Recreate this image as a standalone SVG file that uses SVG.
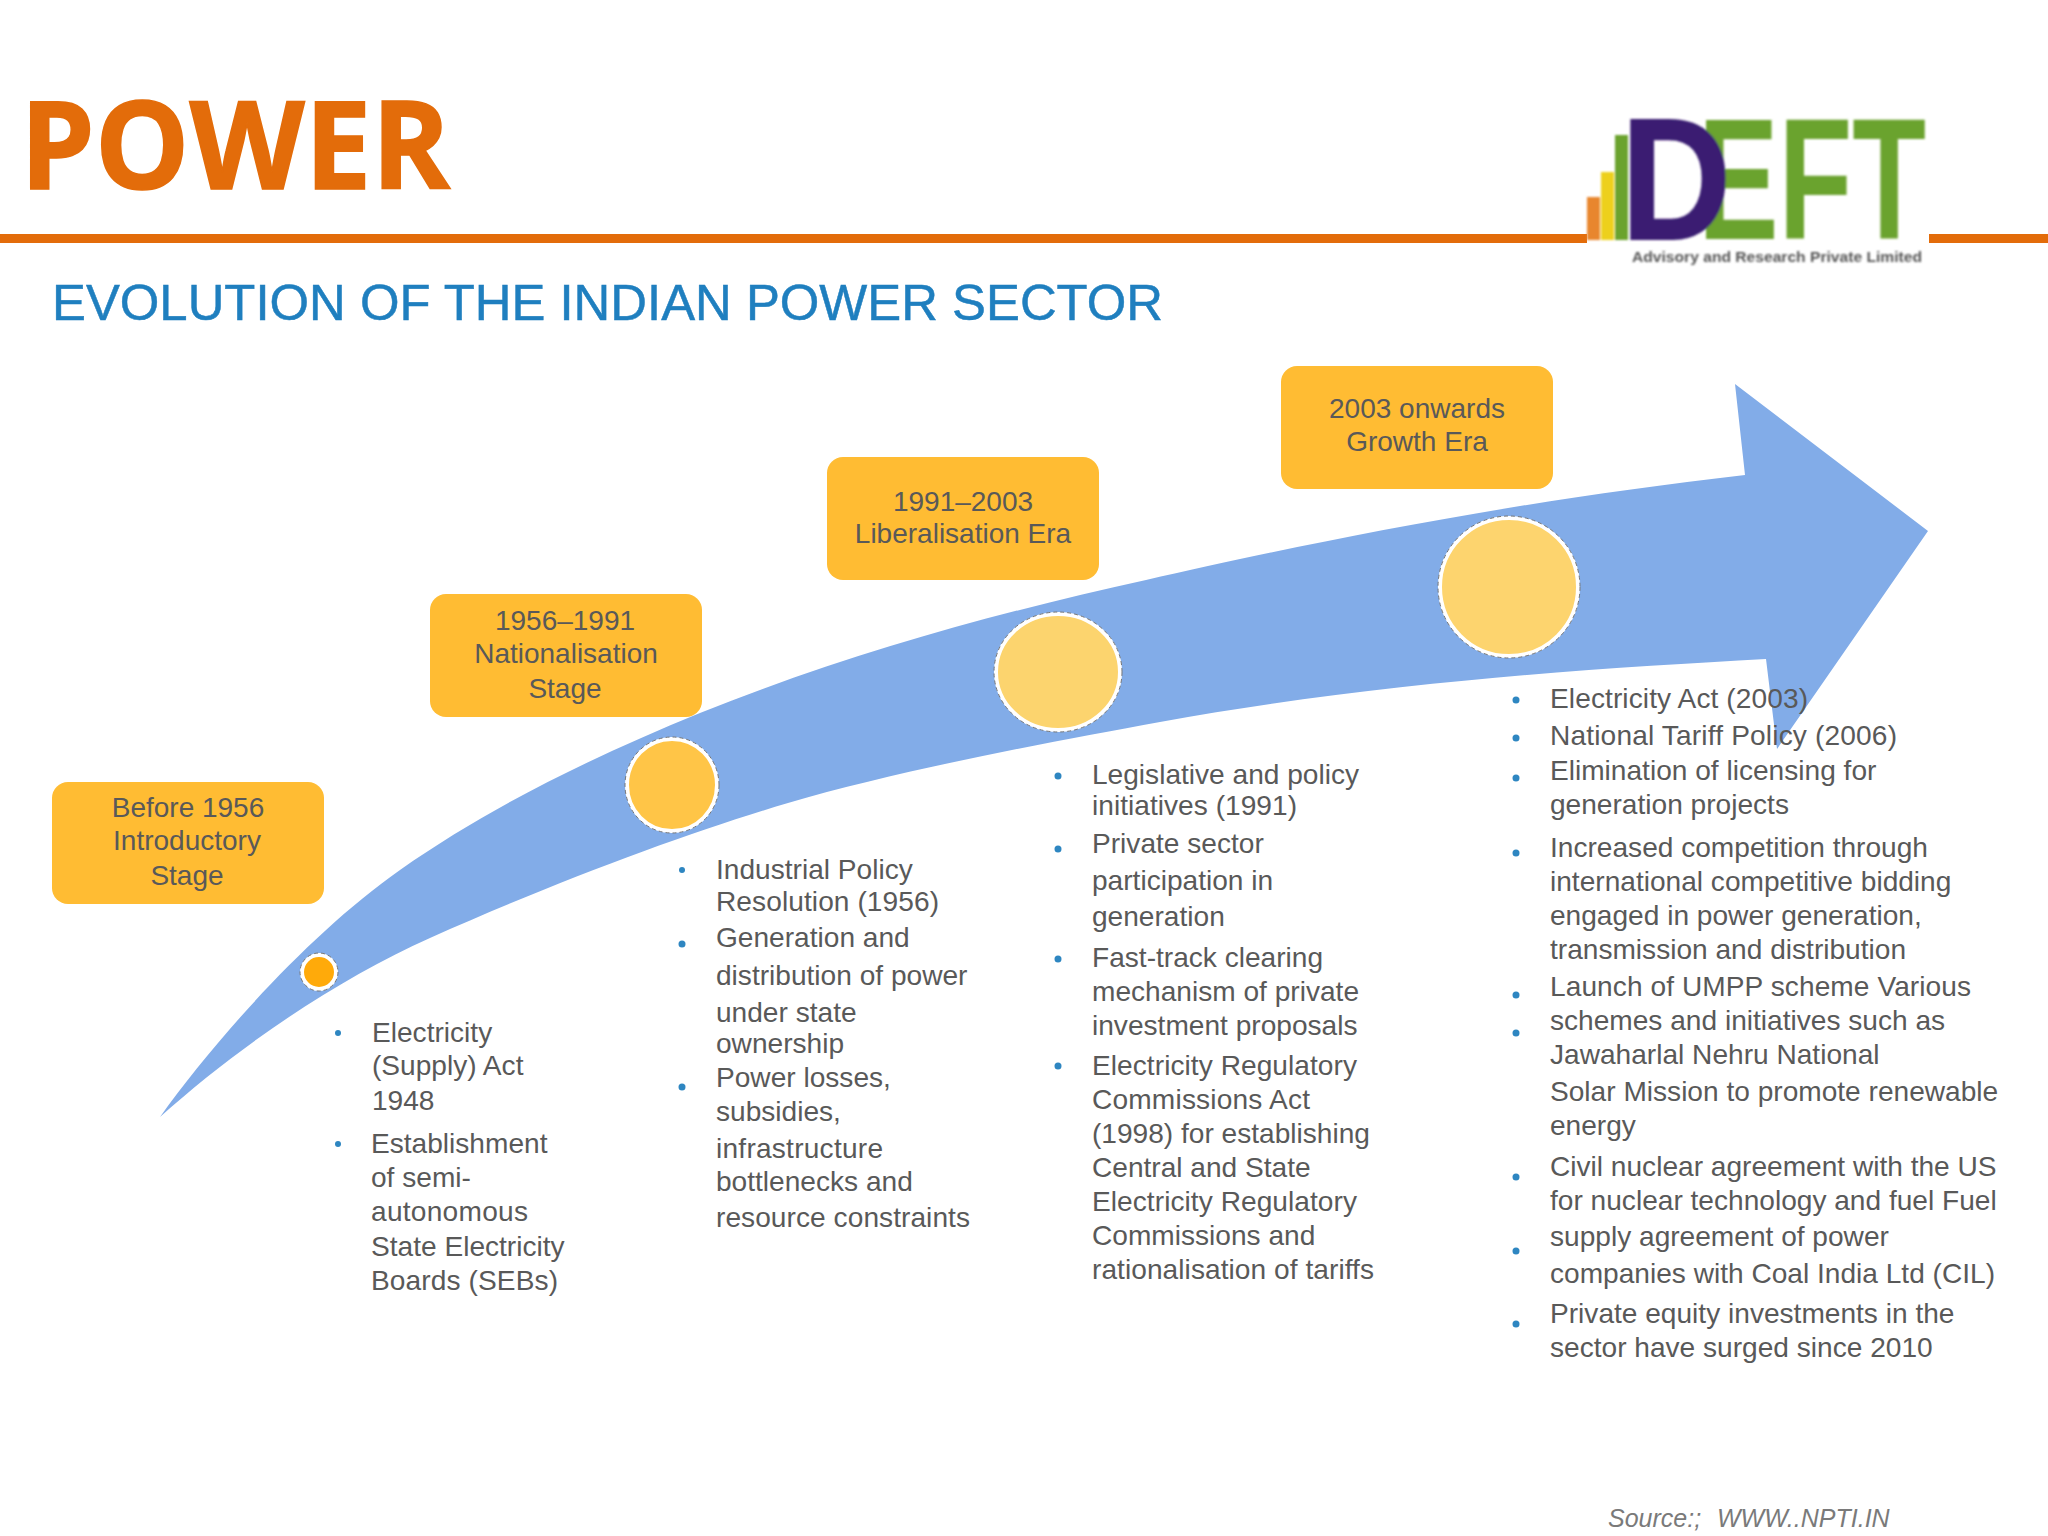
<svg xmlns="http://www.w3.org/2000/svg" width="2048" height="1536" viewBox="0 0 2048 1536">
<style>
text{font-family:"Liberation Sans",Arial,sans-serif;fill:#595959}
.b{font-size:28.1px}
.h{font-size:28px;text-anchor:middle}
.box{fill:#FFBC33}
.dot{fill:#2E86C1}
.c{stroke:#fff;stroke-width:4}
.co{fill:none;stroke:#777;stroke-width:1;stroke-dasharray:4 3}
.lg{font-weight:700}
</style>
<defs><filter id="soft" x="-5%" y="-5%" width="110%" height="110%"><feGaussianBlur stdDeviation="0.9"/></filter></defs>
<rect width="2048" height="1536" fill="#fff"/>
<text x="20" y="189" font-size="122" font-weight="700" textLength="430" lengthAdjust="spacingAndGlyphs" style='font-family:"Open Sans","Noto Sans",sans-serif;fill:#E36C0A;stroke:#E36C0A;stroke-width:1.5'>POWER</text>
<rect id="rule" x="0" y="234" width="2048" height="9" fill="#E36C0A"/>
<g id="logo">
<rect x="1587" y="115" width="342" height="160" fill="#fff"/>
<g filter="url(#soft)">
<rect x="1587" y="197" width="13" height="43" fill="#E8862E"/>
<rect x="1601" y="172" width="13" height="68" fill="#EDD01A"/>
<rect x="1615" y="135" width="13" height="105" fill="#6BA32D"/>
<text class="lg" x="1698" y="239" font-size="173" textLength="228" lengthAdjust="spacingAndGlyphs" style="fill:#6BA32D">EFT</text>
<text class="lg" x="1621" y="239" font-size="173" textLength="110" lengthAdjust="spacingAndGlyphs" style="fill:#3A1F72;stroke:#3A1F72;stroke-width:2">D</text>
<text class="lg" x="1632" y="262" font-size="15" textLength="290" lengthAdjust="spacingAndGlyphs" style="fill:#555">Advisory and Research Private Limited</text>
</g>
</g>
<text x="52" y="320" font-size="50" textLength="1111" lengthAdjust="spacingAndGlyphs" style="fill:#1F7FBF;stroke:#1F7FBF;stroke-width:.5">EVOLUTION OF THE INDIAN POWER SECTOR</text>
<g id="connectors">
<path id="arrow" fill="#82ACE8" d="M160 1117C215 1040 310 933 400 870C490 807 590 758 700 713C850 653 1000 612 1146 580C1300 545 1500 503 1745 475L1735 384L1928 531L1777 749L1766 659C1600 668 1380 682 1160 722C1050 742 900 770 788 803C690 832 560 880 430 938C340 978 240 1045 160 1117Z"/>
</g>
<g id="stage1">
<rect class="box" x="52" y="782" width="272" height="122" rx="16"/>
<text class="h" x="188" y="817">Before 1956</text>
<text class="h" x="187" y="850">Introductory</text>
<text class="h" x="187" y="885">Stage</text>
<circle cx="319" cy="972" r="17" fill="#FFAA0A" class="c"/><circle class="co" cx="319" cy="972" r="19"/>
<circle class="dot" cx="338" cy="1033" r="3"/><circle class="dot" cx="338" cy="1144" r="3"/>
<text class="b" x="372" y="1042">Electricity</text>
<text class="b" x="372" y="1075">(Supply) Act</text>
<text class="b" x="372" y="1110">1948</text>
<text class="b" x="371" y="1153">Establishment</text>
<text class="b" x="371" y="1187">of semi-</text>
<text class="b" x="371" y="1221" textLength="157">autonomous</text>
<text class="b" x="371" y="1256">State Electricity</text>
<text class="b" x="371" y="1290" textLength="187">Boards (SEBs)</text>
</g>
<g id="stage2">
<rect class="box" x="430" y="594" width="272" height="123" rx="16"/>
<text class="h" x="565" y="630">1956–1991</text>
<text class="h" x="566" y="663">Nationalisation</text>
<text class="h" x="565" y="698">Stage</text>
<ellipse cx="672" cy="785" rx="45" ry="46" fill="#FFC547" class="c"/><ellipse class="co" cx="672" cy="785" rx="47" ry="48"/>
<circle class="dot" cx="682" cy="870" r="3"/><circle class="dot" cx="682" cy="944" r="3.5"/><circle class="dot" cx="682" cy="1087" r="3.5"/>
<text class="b" x="716" y="879">Industrial Policy</text>
<text class="b" x="716" y="911" textLength="223">Resolution (1956)</text>
<text class="b" x="716" y="947">Generation and</text>
<text class="b" x="716" y="985">distribution of power</text>
<text class="b" x="716" y="1022">under state</text>
<text class="b" x="716" y="1053">ownership</text>
<text class="b" x="716" y="1087">Power losses,</text>
<text class="b" x="716" y="1121">subsidies,</text>
<text class="b" x="716" y="1158" textLength="167">infrastructure</text>
<text class="b" x="716" y="1191">bottlenecks and</text>
<text class="b" x="716" y="1227" textLength="254">resource constraints</text>
</g>
<g id="stage3">
<rect class="box" x="827" y="457" width="272" height="123" rx="16"/>
<text class="h" x="963" y="511">1991–2003</text>
<text class="h" x="963" y="543">Liberalisation Era</text>
<ellipse cx="1058" cy="672" rx="62" ry="58" fill="#FCD46E" class="c"/><ellipse class="co" cx="1058" cy="672" rx="64" ry="60"/>
<circle class="dot" cx="1058" cy="776" r="3.5"/><circle class="dot" cx="1058" cy="849" r="3.5"/><circle class="dot" cx="1058" cy="959" r="3.5"/><circle class="dot" cx="1058" cy="1066" r="3.5"/>
<text class="b" x="1092" y="784">Legislative and policy</text>
<text class="b" x="1092" y="815" textLength="205">initiatives (1991)</text>
<text class="b" x="1092" y="853">Private sector</text>
<text class="b" x="1092" y="890">participation in</text>
<text class="b" x="1092" y="926">generation</text>
<text class="b" x="1092" y="967">Fast-track clearing</text>
<text class="b" x="1092" y="1001">mechanism of private</text>
<text class="b" x="1092" y="1035">investment proposals</text>
<text class="b" x="1092" y="1075" textLength="265">Electricity Regulatory</text>
<text class="b" x="1092" y="1109" textLength="218">Commissions Act</text>
<text class="b" x="1092" y="1143">(1998) for establishing</text>
<text class="b" x="1092" y="1177">Central and State</text>
<text class="b" x="1092" y="1211" textLength="265">Electricity Regulatory</text>
<text class="b" x="1092" y="1245">Commissions and</text>
<text class="b" x="1092" y="1279" textLength="282">rationalisation of tariffs</text>
</g>
<g id="stage4">
<rect class="box" x="1281" y="366" width="272" height="123" rx="16"/>
<text class="h" x="1417" y="418">2003 onwards</text>
<text class="h" x="1417" y="451">Growth Era</text>
<circle cx="1509" cy="587" r="69" fill="#FDD46E" class="c"/><circle class="co" cx="1509" cy="587" r="71"/>
<circle class="dot" cx="1516" cy="700" r="3.5"/><circle class="dot" cx="1516" cy="738" r="3.5"/><circle class="dot" cx="1516" cy="778" r="3.5"/><circle class="dot" cx="1516" cy="853" r="3.5"/><circle class="dot" cx="1516" cy="995" r="3.5"/><circle class="dot" cx="1516" cy="1033" r="3.5"/><circle class="dot" cx="1516" cy="1177" r="3.5"/><circle class="dot" cx="1516" cy="1251" r="3.5"/><circle class="dot" cx="1516" cy="1324" r="3.5"/>
<text class="b" x="1550" y="708" textLength="258">Electricity Act (2003)</text>
<text class="b" x="1550" y="745" textLength="347">National Tariff Policy (2006)</text>
<text class="b" x="1550" y="780">Elimination of licensing for</text>
<text class="b" x="1550" y="814">generation projects</text>
<text class="b" x="1550" y="857">Increased competition through</text>
<text class="b" x="1550" y="891">international competitive bidding</text>
<text class="b" x="1550" y="925">engaged in power generation,</text>
<text class="b" x="1550" y="959">transmission and distribution</text>
<text class="b" x="1550" y="996" textLength="421">Launch of UMPP scheme Various</text>
<text class="b" x="1550" y="1030">schemes and initiatives such as</text>
<text class="b" x="1550" y="1064">Jawaharlal Nehru National</text>
<text class="b" x="1550" y="1101">Solar Mission to promote renewable</text>
<text class="b" x="1550" y="1135">energy</text>
<text class="b" x="1550" y="1176">Civil nuclear agreement with the US</text>
<text class="b" x="1550" y="1210">for nuclear technology and fuel Fuel</text>
<text class="b" x="1550" y="1246">supply agreement of power</text>
<text class="b" x="1550" y="1283">companies with Coal India Ltd (CIL)</text>
<text class="b" x="1550" y="1323">Private equity investments in the</text>
<text class="b" x="1550" y="1357">sector have surged since 2010</text>
</g>
<text x="1608" y="1527" font-size="25" font-style="italic" style="fill:#7a7a7a">Source:; <tspan x="1717">WWW..NPTI.IN</tspan></text>
</svg>
